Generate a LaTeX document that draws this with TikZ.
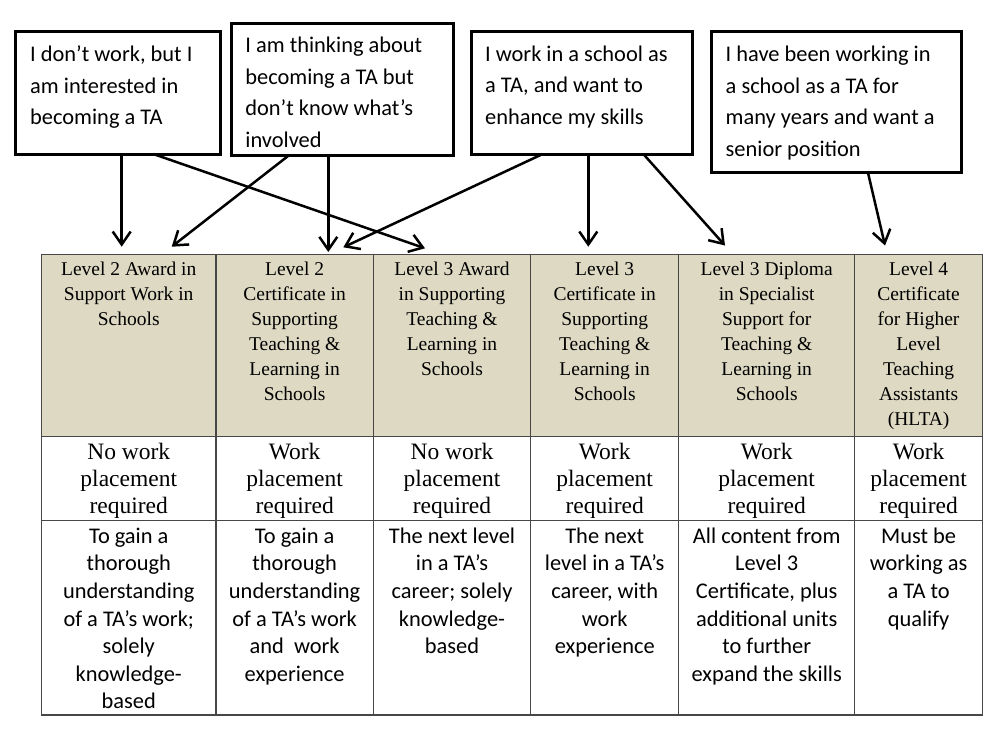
\documentclass[tikz,border=0pt]{standalone}
\usepackage{fontspec}
\newfontfamily\carlito{Carlito}
\newfontfamily\lserif{Liberation Serif}
\usetikzlibrary{arrows.meta}
\newcommand\tstrut{\rule{0pt}{1em}}
\definecolor{hdrfill}{HTML}{DDD9C3}
\definecolor{gridc}{HTML}{474747}
\begin{document}
\begin{tikzpicture}[x=1pt,y=-1pt,
  frame/.style={draw=black, line width=3pt, inner sep=0pt, outer sep=0pt, anchor=north west},
  cell/.style={draw=gridc, line width=1.3pt, inner sep=0pt, outer sep=0pt, anchor=north west},
  boxtxt/.style={anchor=north west, align=left, inner sep=0pt, font=\carlito\fontsize{22.4}{31.5}\selectfont},
  hdr/.style={anchor=north, align=center, inner sep=0pt, font=\lserif\fontsize{19.5}{25}\selectfont},
  wrk/.style={anchor=north, align=center, inner sep=0pt, font=\lserif\fontsize{23.5}{27}\selectfont},
  dsc/.style={anchor=north, align=center, inner sep=0pt, font=\carlito\fontsize{22.4}{27.6}\selectfont},
  arr/.style={line width=2.5pt, -{Straight Barb[length=13pt,width=18pt,line width=2.5pt]}}]
\useasboundingbox (0,0) rectangle (998,732);
\fill[white] (0,0) rectangle (998,732);

% top boxes
\node[frame, minimum width=205.2pt, minimum height=122.7pt] (b1) at (15.3,31.3) {};
\node[frame, minimum width=222.5pt, minimum height=132.5pt] (b2) at (231.3,23.3) {};
\node[frame, minimum width=220.7pt, minimum height=122.7pt] (b3) at (471.3,31.3) {};
\node[frame, minimum width=250.2pt, minimum height=141.5pt] (b4) at (711.3,31.3) {};

\node[boxtxt] (tb1) at (30,39.3) {\tstrut I don’t work, but I\\am interested in\\becoming a TA};
\node[boxtxt] (tb2) at (245.2,30.3) {\tstrut I am thinking about\\becoming a TA but\\don’t know what’s\\involved};
\node[boxtxt] (tb3) at (484.9,38.6) {\tstrut I work in a school as\\a TA, and want to\\enhance my skills};
\node[boxtxt] (tb4) at (725.5,39.3) {\tstrut I have been working in\\a school as a TA for\\many years and want a\\senior position};

% table cells
\foreach \i/\x/\w in {1/41.5/174.5, 2/216/157.3, 3/373.3/157.4, 4/530.7/148, 5/678.7/176, 6/854.7/127.8}{
  \node[cell, fill=hdrfill, minimum width=\w pt, minimum height=182.2pt] (h\i) at (\x,254.5) {};
  \node[cell, minimum width=\w pt, minimum height=84pt] (w\i) at (\x,436.7) {};
  \node[cell, minimum width=\w pt, minimum height=194.3pt] (d\i) at (\x,520.7) {};
}

% header texts
\node[hdr] (th1) at (h1.north |- 0,255.5) {\tstrut Level 2 Award in\\Support Work in\\Schools};
\node[hdr] (th2) at (h2.north |- 0,255.5) {\tstrut Level 2\\Certificate in\\Supporting\\Teaching \&\\Learning in\\Schools};
\node[hdr] (th3) at (h3.north |- 0,255.5) {\tstrut Level 3 Award\\in Supporting\\Teaching \&\\Learning in\\Schools};
\node[hdr] (th4) at (h4.north |- 0,255.5) {\tstrut Level 3\\Certificate in\\Supporting\\Teaching \&\\Learning in\\Schools};
\node[hdr] (th5) at (h5.north |- 0,255.5) {\tstrut Level 3 Diploma\\in Specialist\\Support for\\Teaching \&\\Learning in\\Schools};
\node[hdr] (th6) at (h6.north |- 0,255.5) {\tstrut Level 4\\Certificate\\for Higher\\Level\\Teaching\\Assistants\\(HLTA)};

% work placement texts
\node[wrk] (tw1) at (w1.north |- 0,435.8) {\tstrut No work\\placement\\required};
\node[wrk] (tw2) at (w2.north |- 0,435.8) {\tstrut Work\\placement\\required};
\node[wrk] (tw3) at (w3.north |- 0,435.8) {\tstrut No work\\placement\\required};
\node[wrk] (tw4) at (w4.north |- 0,435.8) {\tstrut Work\\placement\\required};
\node[wrk] (tw5) at (w5.north |- 0,435.8) {\tstrut Work\\placement\\required};
\node[wrk] (tw6) at (w6.north |- 0,435.8) {\tstrut Work\\placement\\required};

% description texts
\node[dsc] (td1) at (d1.north |- 0,520.6) {\tstrut To gain a\\thorough\\understanding\\of a TA’s work;\\solely\\knowledge-\\based};
\node[dsc] (td2) at (d2.north |- 0,520.6) {\tstrut To gain a\\thorough\\understanding\\of a TA’s work\\and~~work\\experience};
\node[dsc] (td3) at (d3.north |- 0,520.6) {\tstrut The next level\\in a TA’s\\career; solely\\knowledge-\\based};
\node[dsc] (td4) at (d4.north |- 0,520.6) {\tstrut The next\\level in a TA’s\\career, with\\work\\experience};
\node[dsc] (td5) at (d5.north |- 0,520.6) {\tstrut All content from\\Level 3\\Certificate, plus\\additional units\\to further\\expand the skills};
\node[dsc] (td6) at (d6.north |- 0,520.6) {\tstrut Must be\\working as\\a TA to\\qualify};

% arrows
\draw[arr] ([xshift=106.4pt]b1.south west) -- ([xshift=80.2pt,yshift=7.8pt]h1.north west);
\draw[arr] ([xshift=138pt]b1.south west) -- ([xshift=51.7pt,yshift=6.2pt]h3.north west);
\draw[arr] ([xshift=57pt]b2.south west) -- ([xshift=130.2pt,yshift=7.8pt]h1.north west);
\draw[arr] ([xshift=97pt]b2.south west) -- ([xshift=112.3pt,yshift=2.5pt]h2.north west);
\draw[arr] ([xshift=71.4pt]b3.south west) -- ([xshift=127.3pt,yshift=7.2pt]h2.north west);
\draw[arr] ([xshift=117pt]b3.south west) -- ([xshift=57.6pt,yshift=7.8pt]h4.north west);
\draw[arr] ([xshift=172pt]b3.south west) -- ([xshift=46.3pt,yshift=9pt]h5.north west);
\draw[arr] ([xshift=156.7pt]b4.south west) -- ([xshift=30.3pt,yshift=9pt]h6.north west);
\end{tikzpicture}
\end{document}
